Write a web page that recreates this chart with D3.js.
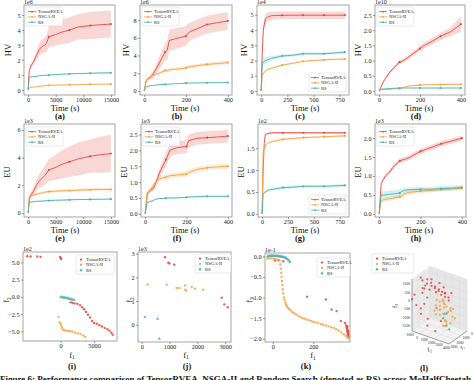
<!DOCTYPE html>
<html><head><meta charset="utf-8">
<script src="https://cdn.jsdelivr.net/npm/d3@7"></script>
<style>body{margin:0;background:#fff}svg{display:block}</style>
</head><body><script>
// ---------------- DATA ----------------
const seriesNames = ["TensorRVEA", "NSGA-II", "RS"];
// (a) HV, 1e6
const tA = [0,200,500,1000,1500,2000,2500,3000,3300,3750,5000,6000,7500,9000,11250,13000,15000];
const hvA_T  = [0,1.3,1.6,1.9,2.3,2.7,2.9,3.0,3.1,3.55,3.7,3.85,4.0,4.2,4.3,4.35,4.4];
const hvA_Ts = [0,0.1,0.15,0.2,0.3,0.4,0.45,0.5,0.55,0.7,0.75,0.8,0.85,0.85,0.9,0.9,0.9];
const hvA_N  = [0,0.15,0.18,0.2,0.22,0.25,0.27,0.29,0.3,0.32,0.33,0.34,0.35,0.36,0.38,0.39,0.4];
const hvA_Ns = [0,0.02,0.02,0.02,0.02,0.02,0.02,0.02,0.02,0.02,0.02,0.02,0.02,0.02,0.02,0.02,0.02];
const hvA_R  = [0,0.85,0.88,0.9,0.92,0.95,0.97,0.98,0.99,1.0,1.03,1.05,1.08,1.1,1.12,1.14,1.15];
const hvA_Rs = [0,0.03,0.03,0.03,0.03,0.03,0.03,0.03,0.03,0.03,0.03,0.03,0.03,0.03,0.03,0.03,0.03];
// (b) 1e6
const tB = [0,10,20,30,40,60,80,100,110,120,150,200,210,220,250,300,350,400];
const hvB_T  = [0,1.2,1.4,1.6,1.8,2.6,3.5,4.4,4.6,5.7,5.9,6.2,6.5,6.7,7.0,7.5,7.7,7.9];
const hvB_Ts = [0,0.1,0.2,0.3,0.4,0.6,0.8,1.0,1.1,1.2,1.2,1.1,1.1,1.0,1.0,1.0,1.0,1.0];
const hvB_N  = [0,1.2,1.4,1.5,1.7,1.9,2.1,2.3,2.35,2.4,2.45,2.6,2.7,2.75,2.85,3.0,3.1,3.2];
const hvB_Ns = [0,0.1,0.1,0.1,0.15,0.15,0.15,0.2,0.2,0.2,0.2,0.2,0.2,0.2,0.2,0.2,0.2,0.2];
const hvB_R  = [0,0.5,0.55,0.6,0.62,0.68,0.72,0.75,0.76,0.78,0.82,0.88,0.89,0.9,0.91,0.93,0.94,0.95];
const hvB_Rs = [0,0.04,0.04,0.04,0.04,0.04,0.04,0.04,0.04,0.04,0.04,0.04,0.04,0.04,0.04,0.04,0.04,0.04];
// (c) 1e4
const tC = [0,10,20,40,60,80,100,200,300,400,500,600,700,800];
const hvC_T  = [0,2.5,4.0,4.75,4.85,4.9,4.95,4.97,4.98,4.98,4.98,4.98,4.98,4.98];
const hvC_Ts = [0,0.3,0.3,0.3,0.3,0.28,0.28,0.25,0.25,0.25,0.25,0.25,0.25,0.25];
const hvC_N  = [0,1.0,1.15,1.3,1.4,1.45,1.5,1.7,1.82,1.95,2.0,2.05,2.08,2.1];
const hvC_Ns = [0,0.05,0.05,0.05,0.05,0.05,0.05,0.05,0.05,0.05,0.05,0.05,0.05,0.05];
const hvC_R  = [0,1.8,1.9,2.0,2.05,2.1,2.15,2.3,2.35,2.45,2.45,2.45,2.5,2.55];
const hvC_Rs = [0,0.2,0.2,0.2,0.2,0.18,0.15,0.12,0.1,0.1,0.08,0.08,0.08,0.08];
// (d) 1e10
const tD = [0,10,20,30,50,70,100,110,130,150,170,200,220,250,300,350,380,400];
const hvD_T  = [0,0.15,0.3,0.4,0.6,0.75,0.95,0.97,1.05,1.15,1.25,1.4,1.5,1.6,1.8,1.95,2.1,2.2];
const hvD_Ts = [0,0.02,0.03,0.04,0.05,0.05,0.06,0.06,0.06,0.07,0.08,0.08,0.1,0.1,0.12,0.15,0.2,0.25];
const hvD_N  = [0,0.04,0.05,0.05,0.06,0.07,0.08,0.1,0.14,0.17,0.18,0.2,0.2,0.21,0.21,0.22,0.22,0.22];
const hvD_Ns = [0,0.01,0.01,0.01,0.01,0.01,0.01,0.01,0.01,0.02,0.02,0.02,0.02,0.02,0.02,0.02,0.02,0.02];
const hvD_R  = [0,0.06,0.07,0.07,0.08,0.09,0.1,0.1,0.1,0.1,0.1,0.1,0.1,0.1,0.1,0.1,0.1,0.1];
const hvD_Rs = [0,0.01,0.01,0.01,0.01,0.01,0.01,0.01,0.01,0.01,0.01,0.01,0.01,0.01,0.01,0.01,0.01,0.01];
// (e) EU 1e3
const tE = [0,200,500,1000,1500,2000,2500,3000,3750,5000,6000,7500,9000,11250,13000,15000];
const euE_T  = [0,1.0,1.3,1.6,2.0,2.3,2.5,2.7,3.1,3.3,3.5,3.7,3.9,4.1,4.2,4.3];
const euE_Ts = [0,0.15,0.2,0.3,0.4,0.5,0.6,0.7,0.8,0.9,1.0,1.1,1.2,1.2,1.3,1.35];
const euE_N  = [0,1.2,1.25,1.3,1.35,1.4,1.45,1.5,1.55,1.58,1.6,1.62,1.65,1.68,1.7,1.7];
const euE_Ns = [0,0.1,0.1,0.1,0.1,0.1,0.1,0.1,0.1,0.1,0.1,0.1,0.1,0.1,0.1,0.1];
const euE_R  = [0,0.78,0.8,0.82,0.84,0.85,0.86,0.88,0.9,0.92,0.93,0.95,0.97,0.98,0.99,1.0];
const euE_Rs = [0,0.04,0.04,0.04,0.04,0.04,0.04,0.04,0.04,0.04,0.04,0.04,0.04,0.04,0.04,0.04];
// (f) 1e3
const tF = [0,10,20,40,50,70,100,110,120,150,200,210,250,300,350,400];
const euF_T  = [0,0.65,0.72,0.8,0.95,1.3,1.7,1.85,2.0,2.08,2.12,2.3,2.38,2.4,2.42,2.45];
const euF_Ts = [0,0.03,0.05,0.08,0.1,0.15,0.2,0.2,0.2,0.2,0.2,0.2,0.2,0.2,0.2,0.2];
const euF_N  = [0,0.6,0.7,0.9,1.0,1.1,1.15,1.18,1.2,1.22,1.25,1.3,1.4,1.45,1.48,1.5];
const euF_Ns = [0,0.08,0.08,0.08,0.08,0.08,0.08,0.08,0.08,0.08,0.08,0.08,0.08,0.08,0.08,0.08];
const euF_R  = [0,0.35,0.38,0.42,0.46,0.48,0.49,0.5,0.5,0.5,0.52,0.53,0.54,0.55,0.55,0.55];
const euF_Rs = [0,0.02,0.02,0.02,0.02,0.02,0.02,0.02,0.02,0.02,0.02,0.02,0.02,0.02,0.02,0.02];
// (g) 1e2
const tG = [0,10,20,30,50,70,100,200,300,400,500,600,700,800];
const euG_T  = [0,1.0,1.6,1.8,1.83,1.84,1.85,1.85,1.85,1.85,1.85,1.85,1.85,1.85];
const euG_Ts = [0,0.02,0.02,0.02,0.02,0.02,0.02,0.02,0.02,0.02,0.02,0.02,0.02,0.02];
const euG_N  = [0,1.45,1.5,1.55,1.6,1.63,1.65,1.7,1.72,1.74,1.75,1.76,1.77,1.78];
const euG_Ns = [0,0.02,0.02,0.02,0.02,0.02,0.02,0.02,0.02,0.02,0.02,0.02,0.02,0.02];
const euG_R  = [0,0.45,0.48,0.5,0.53,0.55,0.56,0.6,0.61,0.63,0.63,0.63,0.64,0.65];
const euG_Rs = [0,0.03,0.03,0.03,0.03,0.03,0.03,0.03,0.03,0.03,0.03,0.03,0.03,0.03];
// (h) 1e3
const tH = [0,10,20,30,50,70,100,110,130,150,200,250,300,350,400];
const euH_T  = [0,0.8,0.9,1.0,1.1,1.25,1.4,1.42,1.45,1.5,1.65,1.75,1.85,1.92,2.0];
const euH_Ts = [0,0.03,0.04,0.05,0.05,0.06,0.06,0.06,0.06,0.07,0.07,0.07,0.07,0.07,0.07];
const euH_N  = [0,0.35,0.37,0.38,0.4,0.42,0.45,0.48,0.55,0.57,0.6,0.62,0.64,0.66,0.68];
const euH_Ns = [0,0.05,0.05,0.05,0.05,0.05,0.05,0.05,0.05,0.05,0.05,0.05,0.05,0.05,0.05];
const euH_R  = [0,0.5,0.5,0.5,0.52,0.53,0.55,0.6,0.63,0.64,0.65,0.65,0.67,0.68,0.7];
const euH_Rs = [0,0.1,0.1,0.1,0.1,0.1,0.1,0.08,0.06,0.06,0.06,0.06,0.06,0.06,0.06];

// (i) Pareto fronts, f2 in 1e2
const iT_f1 = [-5000,-4500,-3500,-3000,-100,0,100,1500,1800,2100,2500,2900,3200,3500,3800,4100,4400,4700,5000,5400,5800,6200,6600,7000,7300,7600,7800];
const iT_f2 = [5.9,5.85,5.85,5.8,5.8,5.6,5.5,-0.8,-0.9,-0.95,-1.0,-1.2,-1.5,-1.8,-2.2,-2.6,-3.0,-3.5,-3.8,-3.9,-4.1,-4.3,-4.5,-4.7,-4.9,-5.2,-5.5];
const iN_f1 = [-300,-150,0,100,200,400,600,900,1200,1500,1800,2200,2600,3000,3400,3700];
const iN_f2 = [-2.9,-3.7,-3.9,-4.2,-4.5,-4.8,-4.85,-4.9,-4.95,-5.0,-5.05,-5.2,-5.3,-5.4,-5.6,-5.8];
const iR_f1 = [0,200,400,600,800,1000,1200,1400,1600,1800,2000];
const iR_f2 = [0,-0.05,-0.1,-0.1,-0.15,-0.2,-0.25,-0.3,-0.35,-0.4,-0.45];
// (j) f2 in 1e3
const jT_f1 = [838,957,1000,1173,2878,2971,3094];
const jT_f2 = [2.85,2.62,2.58,2.53,1.14,0.86,0.74];
const jN_f1 = [216,900,1259,1353,1558,1558,1600,1799,1917,2216];
const jN_f2 = [1.70,1.69,1.55,1.55,1.66,1.48,1.43,1.59,1.52,1.48];
const jR_f1 = [119,575,633];
const jR_f2 = [0.32,0.25,-0.59];
// (k) f2 in 1e-1
const kT_f1 = [11,28,52,170,262,290,315,336,356,362,365,366,367,368,369,370,371,372,373,374,368,372];
const kT_f2 = [-0.1,-0.1,-0.12,-0.98,-1.05,-1.29,-1.33,-1.57,-1.62,-1.68,-1.72,-1.75,-1.78,-1.8,-1.83,-1.86,-1.88,-1.9,-1.93,-1.96,-1.7,-1.82];
const kN_f1 = [-25,-15,-5,5,15,25,33,38,40,42,44,46,48,50,52,55,58,62,66,70,75,80,88,96,105,115,125,135,145,155,165,178,190,200,212,225,238,250,262,275,288,300,312,325,338,350,360,368,372];
const kN_f2 = [-0.05,-0.05,-0.05,-0.06,-0.07,-0.08,-0.1,-0.2,-0.3,-0.4,-0.5,-0.6,-0.7,-0.8,-0.9,-1.0,-1.06,-1.12,-1.17,-1.21,-1.25,-1.28,-1.31,-1.35,-1.38,-1.41,-1.44,-1.47,-1.49,-1.51,-1.53,-1.55,-1.57,-1.59,-1.6,-1.62,-1.64,-1.66,-1.68,-1.7,-1.72,-1.74,-1.77,-1.8,-1.84,-1.89,-1.93,-1.96,-1.99];
const kR_f1 = [-25,-20,-15,-10,-5,0,5,10,15,20,25,30,35,40,45,50,55,60,65,70,75,80,85];
const kR_f2 = [0.0,0.005,0.01,0.01,0.01,0.01,0.01,0.01,0.01,0.01,0.005,0.0,0.0,-0.005,-0.01,-0.015,-0.02,-0.03,-0.04,-0.06,-0.08,-0.1,-0.14];
// (l) 3-objective front: [f1, f2, f3]
const lT = [[1800,-800,1100],[2000,-400,1050],[1700,0,1100],[2100,300,1000],[1900,700,1050],[2200,1000,1000],[2000,1300,950],[2400,1600,1000],[2100,1900,900],[2500,2200,950],[2300,2500,900],[2700,2700,850],[2400,3000,900],[2800,3300,850],[2600,3600,800],[2900,3900,750],[1600,500,1150],[2500,400,1000],[2800,1200,950],[1500,1500,1050],[2200,2800,850],[2000,3500,900],[2700,2000,900],[1800,2300,1000],[2900,600,950],
  [2700,-900,300],[2900,-500,-200],[2500,0,500],[3000,200,-600],[2800,500,0],[2400,-300,-500],[2600,800,-900],[2900,1000,-1200],[2200,400,200],[3000,-1000,100],[2000,1500,-300],[2500,2500,-800],[2800,2000,-1400],[1500,-800,400]];
const lN = [[800,1000,-560],[600,800,-400],[1000,1200,-700],[500,1400,-500],[900,1600,-300],[1200,900,-600],[700,2000,-800],[1100,1800,-450],[400,1100,-350],[1300,1400,-900],[800,2400,-600],[1500,2000,-700],[600,1700,-1000],[1000,2600,-400],[1400,2200,-1100],[300,1500,-650],[1200,3000,-800],[900,600,-250],[1600,1600,-500],[500,2200,-750],[1100,500,-850],[1800,2500,-950],[700,1300,-150],[1300,2800,-1200],[200,900,-450],[1000,2000,-1300],[1500,1000,-350],[800,3000,-1000],[1700,1200,-800],[600,2600,-550],[2000,2600,-1200],[1800,2200,-1300],[2200,3000,-1100]];
const lR = [[900,1500,-1200],[1200,2200,-1400],[700,1800,-900],[1500,2800,-1500],[400,1300,-1100]];

// tick labels
const ticksTimeLong = [0,5000,10000,15000];
const ticksTime400 = [0,200,400];
const ticksTime800 = [0,250,500,750];

// ---------------- STYLE / LAYOUT ----------------
const COL = ["#e5483f", "#f5a442", "#4bb4b0"];
const FONT = "'Liberation Serif','DejaVu Serif','Times New Roman',serif";
const svg = d3.select("body").append("svg").attr("width",474).attr("height",380)
  .attr("font-family",FONT);
const fd = d3.format("d"), f1 = d3.format(".1f");

function frame(g, box){
  g.append("rect").attr("x",box[0]).attr("y",box[2]).attr("width",box[1]-box[0]).attr("height",box[3]-box[2])
   .attr("fill","none").attr("stroke","#8f8f8f").attr("stroke-width",0.8);
}
function axes(g, x, y, box, xt, yt, xf, yf){
  const ax = g.append("g").attr("transform",`translate(0,${box[3]})`)
    .call(d3.axisBottom(x).tickValues(xt).tickFormat(xf).tickSize(2).tickPadding(0.8));
  const ay = g.append("g").attr("transform",`translate(${box[0]},0)`)
    .call(d3.axisLeft(y).tickValues(yt).tickFormat(yf).tickSize(2).tickPadding(1.5));
  [ax,ay].forEach(a=>{
    a.select(".domain").remove();
    a.attr("font-family",FONT).attr("font-size",6.2);
    a.selectAll("line").attr("stroke","#555").attr("stroke-width",0.6);
    a.selectAll("text").attr("fill","#222");
  });
}
function legend(g, lx, ly, kind, w){
  w = w || 37;
  g.append("rect").attr("x",lx).attr("y",ly).attr("width",w).attr("height",19).attr("rx",1.2)
    .attr("fill","#fff").attr("fill-opacity",0.85).attr("stroke","#d2d2d2").attr("stroke-width",0.5);
  seriesNames.forEach((n,i)=>{
    const cy = ly + 4.6 + i*5.3;
    if(kind==="line"){
      g.append("line").attr("x1",lx+2).attr("x2",lx+10).attr("y1",cy).attr("y2",cy).attr("stroke",COL[i]).attr("stroke-width",0.8);
      g.append("circle").attr("cx",lx+6).attr("cy",cy).attr("r",0.9).attr("fill",COL[i]);
      g.append("text").attr("x",lx+12).attr("y",cy+1.5).attr("font-size",4.6).attr("fill","#222").text(n);
    } else {
      g.append("path").attr("transform",`translate(${lx+5},${cy})`)
        .attr("d",d3.symbol().type(i===2?d3.symbolTriangle:d3.symbolCircle).size(i===2?5:4)()).attr("fill",COL[i]);
      g.append("text").attr("x",lx+10).attr("y",cy+1.5).attr("font-size",4.6).attr("fill","#222").text(n);
    }
  });
}
function labels(g, P, xlab, ylab){
  g.append("text").attr("x",P.box[0]).attr("y",P.box[2]-1).attr("font-size",6).attr("fill","#222").text(P.off);
  if(xlab) g.append("text").attr("x",P.xl[0]).attr("y",P.xl[1]).attr("text-anchor","middle").attr("font-size",8.5).attr("fill","#111").text(xlab);
  if(ylab) g.append("text").attr("transform",`translate(${P.yl[0]},${P.yl[1]}) rotate(-90)`).attr("text-anchor","middle").attr("font-size",8.5).attr("fill","#111").text(ylab);
  g.append("text").attr("x",P.pl[0]).attr("y",P.pl[1]).attr("text-anchor","middle").attr("font-size",8.5).attr("font-weight","bold").attr("fill","#111").text(P.label);
}
function linePanel(P){
  const g = svg.append("g");
  const [x0,x1,y0,y1] = P.box;
  const x = d3.scaleLinear().domain(P.xd).range([x0,x1]);
  const y = d3.scaleLinear().domain(P.yd).range([y1,y0]);
  P.series.forEach((s,i)=>{
    const pts = P.t.map((t,j)=>({t, m:s[0][j], sd:s[1][j]}));
    g.append("path").attr("d", d3.area().x(d=>x(d.t)).y0(d=>y(d.m-d.sd)).y1(d=>y(d.m+d.sd))(pts))
      .attr("fill",COL[i]).attr("fill-opacity",0.22);
    g.append("path").attr("d", d3.line().x(d=>x(d.t)).y(d=>y(d.m))(pts))
      .attr("fill","none").attr("stroke",COL[i]).attr("stroke-width",0.9);
    g.selectAll(null).data(pts.filter(d=>P.mk.includes(d.t))).join("circle")
      .attr("cx",d=>x(d.t)).attr("cy",d=>y(d.m)).attr("r",1.1).attr("fill",COL[i]);
  });
  frame(g,P.box);
  axes(g,x,y,P.box,P.xt,P.yt,fd,P.yf);
  labels(g,P,"Time (s)",P.ylab);
  legend(g,P.lg[0],P.lg[1],"line");
}
function scatterPanel(P){
  const g = svg.append("g");
  const [x0,x1,y0,y1] = P.box;
  const x = d3.scaleLinear().domain(P.xd).range([x0,x1]);
  const y = d3.scaleLinear().domain(P.yd).range([y1,y0]);
  P.sets.forEach((s,i)=>{
    const pts = s[0].map((v,j)=>[v,s[1][j]]);
    g.selectAll(null).data(pts).join("path")
      .attr("transform",d=>`translate(${x(d[0])},${y(d[1])})`)
      .attr("d",d3.symbol().type(i===2?d3.symbolTriangle:d3.symbolCircle).size(i===2?5:4.5)())
      .attr("fill",COL[i]).attr("fill-opacity",0.85);
  });
  frame(g,P.box);
  axes(g,x,y,P.box,P.xt,P.yt,fd,P.yf);
  labels(g,P,"","");
  const xl = g.append("text").attr("x",P.xl[0]).attr("y",P.xl[1]).attr("text-anchor","middle").attr("font-size",8.5).attr("fill","#111");
  xl.append("tspan").text("f"); xl.append("tspan").attr("font-size",5.5).attr("dy",1.5).text("1");
  const yl = g.append("text").attr("transform",`translate(${P.yl[0]},${P.yl[1]}) rotate(-90)`).attr("text-anchor","middle").attr("font-size",8.5).attr("fill","#111");
  yl.append("tspan").text("f"); yl.append("tspan").attr("font-size",5.5).attr("dy",1.5).text("2");
  legend(g,P.lg[0],P.lg[1],"scatter",P.lw);
}

// ---------------- PANELS ----------------
const row1 = [5,95], row2 = [124,217];
linePanel({box:[24,115,row1[0],row1[1]], xd:[-750,15750], yd:[-0.33,5.67], t:tA, mk:[3750,7500,11250,15000],
  series:[[hvA_T,hvA_Ts],[hvA_N,hvA_Ns],[hvA_R,hvA_Rs]], xt:ticksTimeLong, yt:[0,1,2,3,4,5], yf:fd,
  off:"1e6", ylab:"HV", xl:[65,110.5], yl:[11,50], pl:[60,119], label:"(a)", lg:[26,7]});
linePanel({box:[140,232,row1[0],row1[1]], xd:[-20,420], yd:[-0.45,9.7], t:tB, mk:[100,200,300,400],
  series:[[hvB_T,hvB_Ts],[hvB_N,hvB_Ns],[hvB_R,hvB_Rs]], xt:ticksTime400, yt:[0,2,4,6,8], yf:fd,
  off:"1e6", ylab:"HV", xl:[185,110.5], yl:[129,50], pl:[177,119], label:"(b)", lg:[142,7]});
linePanel({box:[257,349,row1[0],row1[1]], xd:[-40,840], yd:[-0.26,5.65], t:tC, mk:[200,400,600,800],
  series:[[hvC_T,hvC_Ts],[hvC_N,hvC_Ns],[hvC_R,hvC_Rs]], xt:ticksTime800, yt:[0,1,2,3,4,5], yf:fd,
  off:"1e4", ylab:"HV", xl:[305,110.5], yl:[247,50], pl:[300,119], label:"(c)", lg:[309,73]});
linePanel({box:[375,465,row1[0],row1[1]], xd:[-20,420], yd:[-0.13,2.83], t:tD, mk:[100,200,300,400],
  series:[[hvD_T,hvD_Ts],[hvD_N,hvD_Ns],[hvD_R,hvD_Rs]], xt:ticksTime400, yt:[0,0.5,1,1.5,2,2.5], yf:f1,
  off:"1e10", ylab:"HV", xl:[419,110.5], yl:[361,50], pl:[416,119], label:"(d)", lg:[377,7]});

linePanel({box:[24,115,row2[0],row2[1]], xd:[-750,15750], yd:[-0.29,6.43], t:tE, mk:[3750,7500,11250,15000],
  series:[[euE_T,euE_Ts],[euE_N,euE_Ns],[euE_R,euE_Rs]], xt:ticksTimeLong, yt:[0,2,4,6], yf:fd,
  off:"1e3", ylab:"EU", xl:[65,232.5], yl:[10,172], pl:[60,241], label:"(e)", lg:[26,127]});
linePanel({box:[141,232,row2[0],row2[1]], xd:[-20,420], yd:[-0.1,2.83], t:tF, mk:[100,200,300,400],
  series:[[euF_T,euF_Ts],[euF_N,euF_Ns],[euF_R,euF_Rs]], xt:ticksTime400, yt:[0,0.5,1,1.5,2,2.5], yf:f1,
  off:"1e3", ylab:"EU", xl:[185,232.5], yl:[127,172], pl:[177,241], label:"(f)", lg:[143,127]});
linePanel({box:[258,349,row2[0],row2[1]], xd:[-40,840], yd:[-0.07,2.05], t:tG, mk:[200,400,600,800],
  series:[[euG_T,euG_Ts],[euG_N,euG_Ns],[euG_R,euG_Rs]], xt:ticksTime800, yt:[0,0.5,1,1.5], yf:f1,
  off:"1e2", ylab:"EU", xl:[305,232.5], yl:[244,172], pl:[300,241], label:"(g)", lg:[309,195]});
linePanel({box:[375,466,row2[0],row2[1]], xd:[-20,420], yd:[-0.08,2.37], t:tH, mk:[100,200,300,400],
  series:[[euH_T,euH_Ts],[euH_N,euH_Ns],[euH_R,euH_Rs]], xt:ticksTime400, yt:[0,0.5,1,1.5,2], yf:f1,
  off:"1e3", ylab:"EU", xl:[419,232.5], yl:[361,172], pl:[416,241], label:"(h)", lg:[377,127]});

scatterPanel({box:[23,117,252,341], xd:[-5640,8440], yd:[-6.4,6.5],
  sets:[[iT_f1,iT_f2],[iN_f1,iN_f2],[iR_f1,iR_f2]], xt:[0,5000], yt:[5,2.5,0,-2.5,-5], yf:f1,
  off:"1e2", xl:[72,357.5], yl:[9,300], pl:[72,369], label:"(i)", lg:[76,255], lw:38});
scatterPanel({box:[138,231,252,342], xd:[-133,3210], yd:[-0.73,3.07],
  sets:[[jT_f1,jT_f2],[jN_f1,jN_f2],[jR_f1,jR_f2]], xt:[0,1000,2000,3000], yt:[0,1,2,3], yf:fd,
  off:"1e3", xl:[186,357.5], yl:[132,300], pl:[187,369], label:"(j)", lg:[195,254], lw:36});
scatterPanel({box:[265,350,253,342], xd:[-38,381], yd:[-2.08,0.08],
  sets:[[kT_f1,kT_f2],[kN_f1,kN_f2],[kR_f1,kR_f2]], xt:[0,200], yt:[0,-0.5,-1,-1.5,-2], yf:f1,
  off:"1e-1", xl:[313,358], yl:[252,300], pl:[306,369], label:"(k)", lg:[317,258], lw:33});

// ---------------- 3D panel (l) ----------------
(function(){
  const g = svg.append("g");
  const sa = d3.scaleLinear().domain([0,3000]).range([0,1]);      // f1
  const sb = d3.scaleLinear().domain([-1000,4000]).range([0,1]);  // f2
  const sc = d3.scaleLinear().domain([-1800,1300]).range([0,1]);  // f3
  const back=[430,318], vA=[-18,13], vB=[37,13], Hh=52;
  const P = (a,b,c)=>[back[0]+a*vA[0]+b*vB[0], back[1]+a*vA[1]+b*vB[1]-c*Hh];
  const pr = d=>P(sa(d[0]),sb(d[1]),sc(d[2]));
  const poly = pts=>"M"+pts.map(p=>p.join(",")).join("L")+"Z";
  g.append("path").attr("d",poly([P(0,0,0),P(1,0,0),P(1,1,0),P(0,1,0)])).attr("fill","#f2f2f2");
  g.append("path").attr("d",poly([P(0,0,0),P(1,0,0),P(1,0,1),P(0,0,1)])).attr("fill","#ebebeb");
  g.append("path").attr("d",poly([P(0,0,0),P(0,1,0),P(0,1,1),P(0,0,1)])).attr("fill","#e6e6e6");
  const f1t=[0,1000,2000,3000], f2t=[-1000,0,1000,2000,3000,4000], f3t=[-1500,-1000,-500,0,500,1000];
  const gl = (p,q)=>g.append("line").attr("x1",p[0]).attr("y1",p[1]).attr("x2",q[0]).attr("y2",q[1]).attr("stroke","#d6d6d6").attr("stroke-width",0.4);
  f1t.forEach(v=>{ gl(P(sa(v),0,0),P(sa(v),1,0)); gl(P(sa(v),0,0),P(sa(v),0,1)); });
  f2t.forEach(v=>{ gl(P(0,sb(v),0),P(1,sb(v),0)); gl(P(0,sb(v),0),P(0,sb(v),1)); });
  f3t.forEach(v=>{ gl(P(1,0,sc(v)),P(0,0,sc(v))); gl(P(0,0,sc(v)),P(0,1,sc(v))); });
  const al = (p,q)=>g.append("line").attr("x1",p[0]).attr("y1",p[1]).attr("x2",q[0]).attr("y2",q[1]).attr("stroke","#555").attr("stroke-width",0.5);
  al(P(1,0,0),P(1,0,1)); al(P(1,0,0),P(1,1,0)); al(P(1,1,0),P(0,1,0));
  const tx = (p,s,anchor)=>g.append("text").attr("x",p[0]).attr("y",p[1]).attr("font-size",3.6).attr("text-anchor",anchor||"middle").attr("fill","#222").text(s);
  f3t.forEach(v=>{ const p=P(1,0,sc(v)); tx([p[0]-2,p[1]+1.2],v,"end"); });
  f2t.forEach(v=>{ const p=P(1,sb(v),0); tx([p[0]-2.5,p[1]+5],v); });
  f1t.forEach(v=>{ const p=P(sa(v),1,0); tx([p[0]+5,p[1]+4],v); });
  const lab=(x,y,n,rot)=>{ const t=g.append("text").attr("transform",`translate(${x},${y})`+(rot?` rotate(${rot})`:"")).attr("font-size",6).attr("fill","#111");
    t.append("tspan").text("f"); t.append("tspan").attr("font-size",4).attr("dy",1).text(n); };
  lab(397,308,"3",-90); lab(428,352,"2",-15); lab(462,350,"1",-35);
  [[lT,0],[lN,1],[lR,2]].forEach(([arr,i])=>{
    g.selectAll(null).data(arr).join("path")
      .attr("transform",d=>{const p=pr(d); return `translate(${p[0]},${p[1]})`;})
      .attr("d",d3.symbol().type(i===2?d3.symbolTriangle:d3.symbolCircle).size(4)())
      .attr("fill",COL[i]).attr("fill-opacity",0.85);
  });
  legend(g,372,254,"scatter",42);
  g.append("text").attr("x",424).attr("y",371).attr("text-anchor","middle").attr("font-size",8.5).attr("font-weight","bold").attr("fill","#111").text("(l)");
})();

// caption
svg.append("text").attr("x",0).attr("y",381.5).attr("font-size",9).attr("font-weight","bold").attr("fill","#111")
  .text("Figure 6: Performance comparison of TensorRVEA, NSGA-II and Random Search (denoted as RS) across MoHalfCheetah");
</script></body></html>
